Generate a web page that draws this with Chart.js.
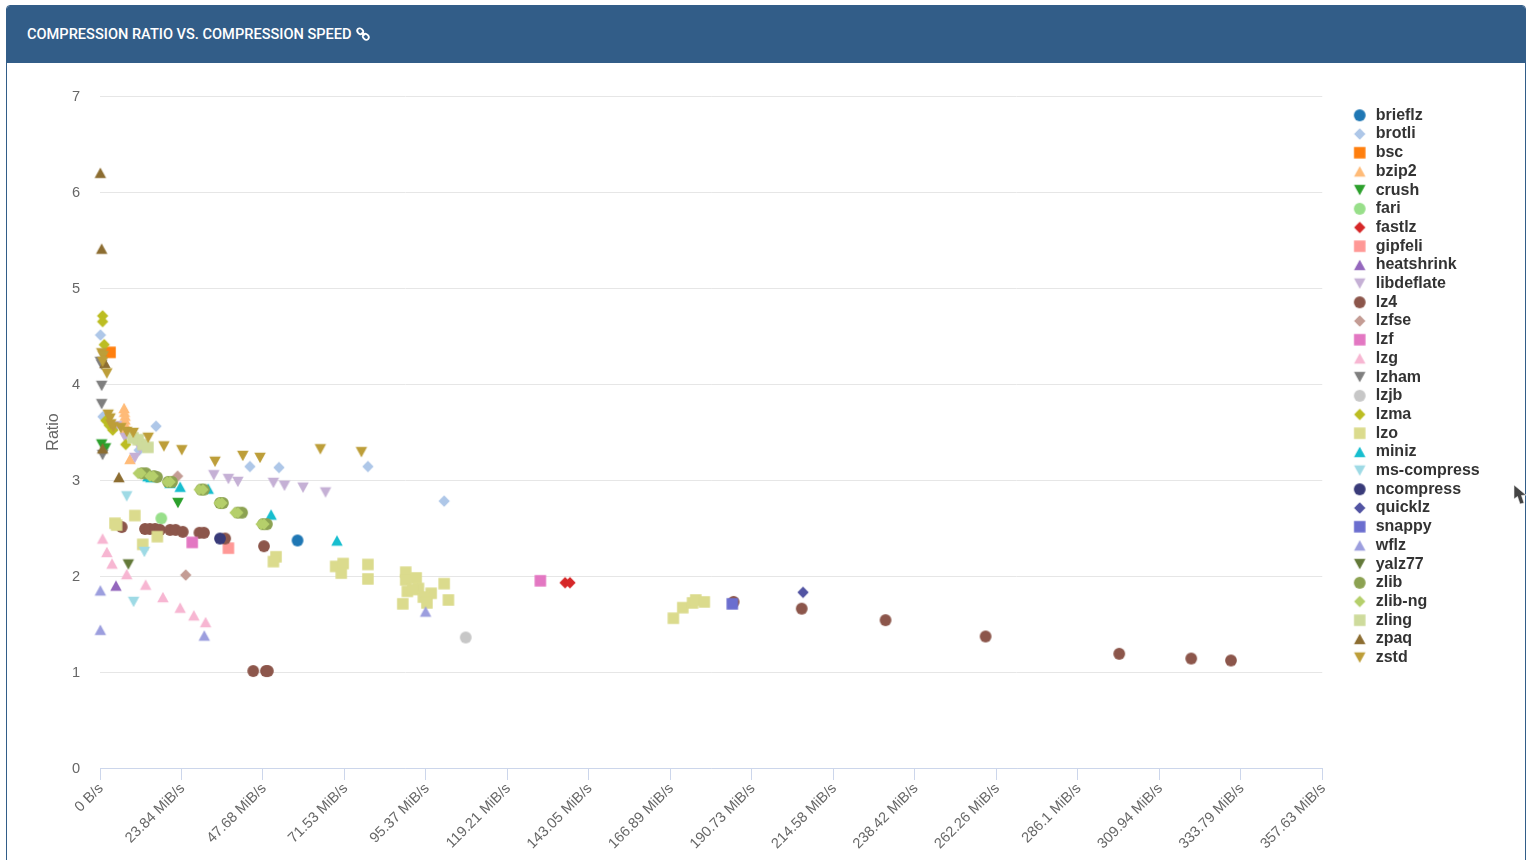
<!DOCTYPE html>
<html>
<head>
<meta charset="utf-8">
<title>Compression ratio vs. compression speed</title>
<script src="https://cdn.jsdelivr.net/npm/chart.js@4"></script>
<style>
  html, body { margin: 0; padding: 0; background: #fff; overflow: hidden; }
  #page { position: relative; width: 1529px; height: 860px; overflow: hidden; }
  #card { position: absolute; left: 6px; top: 5px; width: 1518px; height: 900px; border: 1px solid #325d88; border-radius: 4px 4px 0 0; }
  #head { position: absolute; left: 0; top: 0; right: 0; height: 57px; background: #325d88; color: #fff;
          font: 500 14.6px Roboto, sans-serif; line-height: 56px; padding-left: 20px; border-radius: 3px 3px 0 0; }
  #head svg { vertical-align: -2px; margin-left: 1px; }
  #chart { position: absolute; left: 0; top: 0; }
  #cursor { position: absolute; left: 1513px; top: 484px; }
</style>
</head>
<body>
<div id="page">
  <div id="card">
    <div id="head">COMPRESSION RATIO VS. COMPRESSION SPEED
      <svg width="14" height="14" viewBox="0 0 14 14" fill="none" stroke="#fff" stroke-width="1.8">
        <ellipse cx="4.2" cy="4.2" rx="3.2" ry="2.6" transform="rotate(45 4.2 4.2)"/>
        <ellipse cx="9.8" cy="9.8" rx="3.2" ry="2.6" transform="rotate(45 9.8 9.8)"/>
        <path d="M5.5 5.5L8.5 8.5"/>
      </svg>
    </div>
  </div>
  <canvas id="chart" width="1529" height="860"></canvas>
  <svg id="cursor" width="14" height="22" viewBox="0 0 14 22">
    <path d="M1 1L1 15L4.5 12.5L7 20L11 19L8.5 11.5L13 11Z" fill="#444" stroke="#eee" stroke-width="0.6"/>
  </svg>
</div>

<script>
// speed in MB/s, ratio
const brieflz = [[60.6, 2.37]];
const brotli = [[0.15, 4.51], [0.9, 3.66], [17.2, 3.56], [46, 3.14], [54.9, 3.13], [82.2, 3.14], [105.6, 2.78], [12, 3.31]];
const bsc = [[3.07, 4.33]];
const bzip2 = [[7.4, 3.75], [7.5, 3.71], [7.7, 3.67], [7.7, 3.63], [7.8, 3.58], [8, 3.54], [9.2, 3.22]];
const crush = [[0.5, 3.37], [1.7, 3.33], [23.9, 2.76]];
const fari = [[18.8, 2.6]];
const fastlz = [[142.7, 1.93], [144.2, 1.93]];
const gipfeli = [[39.4, 2.29]];
const heatshrink = [[4.9, 1.9]];
const libdeflate = [[5.1, 3.56], [7.7, 3.44], [12.3, 3.33], [10.7, 3.23], [34.9, 3.05], [39.4, 3.01], [42.3, 2.98], [53.2, 2.97], [56.6, 2.94], [62.3, 2.92], [69.2, 2.87]];
const lz4 = [[6.66, 2.51], [13.8, 2.49], [15.3, 2.49], [16.9, 2.49], [18.4, 2.48], [21.5, 2.48], [23.2, 2.48], [25.4, 2.46], [30.5, 2.45], [31.9, 2.45], [38.4, 2.39], [50.3, 2.31], [47, 1.01], [50.9, 1.01], [51.5, 1.01], [194.4, 1.73], [215.3, 1.66], [241, 1.54], [271.7, 1.37], [312.7, 1.19], [334.8, 1.14], [347, 1.12]];
const lzfse = [[23.8, 3.04], [26.3, 2.01]];
const lzf = [[28.3, 2.35], [135.1, 1.95]];
const lzg = [[0.8, 2.39], [2.1, 2.25], [3.7, 2.13], [8.2, 2.02], [14, 1.91], [19.3, 1.78], [24.6, 1.67], [28.8, 1.59], [32.4, 1.52]];
const lzham = [[0.5, 3.98], [0.5, 3.79], [0.1, 4.23], [0.5, 4.2], [0.8, 3.26]];
const lzjb = [[112.2, 1.36]];
const lzma = [[0.8, 4.71], [0.8, 4.65], [1.3, 4.41], [1.8, 3.62], [2.8, 3.57], [3.9, 3.52], [7.9, 3.37]];
const lzo = [[4.6, 2.55], [5.1, 2.53], [10.7, 2.63], [13.1, 2.33], [17.6, 2.41], [54, 2.2], [53.2, 2.15], [72.3, 2.1], [74.6, 2.13], [74, 2.03], [82.2, 2.12], [82.2, 1.97], [93.8, 2.04], [97, 1.98], [93.8, 1.96], [97.7, 1.87], [94.3, 1.84], [96, 1.86], [101.6, 1.82], [99.2, 1.78], [100.3, 1.72], [92.9, 1.71], [105.6, 1.92], [106.9, 1.75], [175.9, 1.56], [178.8, 1.67], [181.8, 1.72], [182.8, 1.75], [185.4, 1.73]];
const miniz = [[14.7, 3.04], [15.6, 3.03], [21.5, 2.97], [24.6, 2.93], [33.2, 2.91], [52.5, 2.64], [72.7, 2.37]];
const msCompress = [[8.2, 2.83], [13.6, 2.25], [10.3, 1.73]];
const ncompress = [[36.8, 2.39]];
const quicklz = [[215.7, 1.83]];
const snappy = [[194, 1.71]];
const wflz = [[0.1, 1.85], [0.1, 1.44], [32, 1.38], [99.9, 1.63]];
const yalz77 = [[8.7, 2.12]];
const zlib = [[12.9, 3.07], [14.1, 3.07], [16.6, 3.04], [17.5, 3.03], [20.9, 2.98], [22.1, 2.98], [31, 2.9], [31.9, 2.9], [36.8, 2.76], [37.7, 2.76], [42.3, 2.66], [43.6, 2.66], [50, 2.54], [51.2, 2.54]];
const zlibNg = [[11.7, 3.07], [12.6, 3.07], [15.3, 3.04], [16.3, 3.04], [20.6, 2.98], [21.5, 2.98], [30.4, 2.9], [31.6, 2.9], [36.5, 2.76], [37.4, 2.76], [41.4, 2.66], [42.3, 2.66], [49.4, 2.54], [50.3, 2.54]];
const zling = [[10.1, 3.44], [11.7, 3.42], [13.2, 3.37], [14.7, 3.34]];
const zpaq = [[0.1, 6.2], [0.5, 5.41], [1.5, 4.22], [0.8, 3.33], [5.8, 3.03]];
const zstd = [[0.5, 4.32], [1, 4.29], [0.8, 4.23], [2.1, 4.11], [2.5, 3.68], [3.1, 3.64], [3.3, 3.58], [4.1, 3.55], [6.4, 3.54], [8.2, 3.5], [10.2, 3.49], [14.8, 3.44], [19.6, 3.35], [25.1, 3.31], [35.3, 3.19], [43.8, 3.25], [49.1, 3.23], [67.6, 3.32], [80.2, 3.29]];

const seriesNames = ['brieflz', 'brotli', 'bsc', 'bzip2', 'crush', 'fari', 'fastlz', 'gipfeli', 'heatshrink', 'libdeflate', 'lz4', 'lzfse', 'lzf', 'lzg', 'lzham', 'lzjb', 'lzma', 'lzo', 'miniz', 'ms-compress', 'ncompress', 'quicklz', 'snappy', 'wflz', 'yalz77', 'zlib', 'zlib-ng', 'zling', 'zpaq', 'zstd'];
const seriesValues = [brieflz, brotli, bsc, bzip2, crush, fari, fastlz, gipfeli, heatshrink, libdeflate, lz4, lzfse, lzf, lzg, lzham, lzjb, lzma, lzo, miniz, msCompress, ncompress, quicklz, snappy, wflz, yalz77, zlib, zlibNg, zling, zpaq, zstd];
const xTickLabels = ['0 B/s', '23.84 MiB/s', '47.68 MiB/s', '71.53 MiB/s', '95.37 MiB/s', '119.21 MiB/s', '143.05 MiB/s', '166.89 MiB/s', '190.73 MiB/s', '214.58 MiB/s', '238.42 MiB/s', '262.26 MiB/s', '286.1 MiB/s', '309.94 MiB/s', '333.79 MiB/s', '357.63 MiB/s'];

const palette = ['#1f77b4', '#aec7e8', '#ff7f0e', '#ffbb78', '#2ca02c', '#98df8a', '#d62728', '#ff9896', '#9467bd', '#c5b0d5', '#8c564b', '#c49c94', '#e377c2', '#f7b6d2', '#7f7f7f', '#c7c7c7', '#bcbd22', '#dbdb8d', '#17becf', '#9edae5', '#393b79', '#5254a3', '#6b6ecf', '#9c9ede', '#637939', '#8ca252', '#b5cf6b', '#cedb9c', '#8c6d31', '#bd9e39'];
const shapeCycle = ['circle', 'diamond', 'square', 'triangle', 'triangle-down'];

// chart.js triangles are not centred on their box, so the markers are small canvases
function makeMarker(shape, color) {
    const c = document.createElement('canvas');
    c.width = 16;
    c.height = 16;
    const g = c.getContext('2d');
    g.fillStyle = color;
    g.beginPath();
    if (shape === 'circle') g.arc(8, 8, 5.9, 0, Math.PI * 2);
    if (shape === 'square') g.rect(2.25, 2.25, 11.5, 11.5);
    if (shape === 'diamond') { g.moveTo(8, 2.3); g.lineTo(13.7, 8); g.lineTo(8, 13.7); g.lineTo(2.3, 8); }
    if (shape === 'triangle') { g.moveTo(8, 2.7); g.lineTo(13.75, 13.3); g.lineTo(2.25, 13.3); }
    if (shape === 'triangle-down') { g.moveTo(2.25, 2.7); g.lineTo(13.75, 2.7); g.lineTo(8, 13.3); }
    g.closePath();
    g.fill();
    return c;
}

const datasets = seriesNames.map((name, i) => ({
    label: name,
    data: seriesValues[i],
    backgroundColor: palette[i],
    borderColor: palette[i],
    pointStyle: makeMarker(shapeCycle[i % 5], palette[i]),
    order: seriesNames.length - i,
    clip: false
}));

// legend sits further right than the plot edge and a bit below its top
const legendPlace = {
    id: 'legendPlace',
    afterLayout(chart) {
        chart.legend.left = 1349;
        chart.legend.right = 1529;
        chart.legend.top = 104.6;
    }
};

new Chart(document.getElementById('chart').getContext('2d'), {
    type: 'scatter',
    data: { datasets },
    plugins: [legendPlace],
    options: {
        responsive: false,
        animation: false,
        events: [],
        layout: { padding: { left: 44, top: 96, right: 66, bottom: 0 } },
        scales: {
            x: {
                type: 'linear',
                min: 0,
                max: 375,
                afterFit(s) { s.height = 92; },
                border: { color: '#ccd6eb' },
                grid: { drawOnChartArea: false, tickColor: '#ccd6eb', tickLength: 12 },
                ticks: {
                    stepSize: 25,
                    autoSkip: false,
                    minRotation: 45,
                    maxRotation: 45,
                    padding: 0,
                    labelOffset: 1,
                    color: '#666',
                    font: { family: '"Liberation Sans"', size: 14.6 },
                    callback: (v, i) => xTickLabels[i]
                }
            },
            y: {
                min: 0,
                max: 7,
                afterFit(s) { s.width = 56; },
                border: { display: false },
                grid: { color: '#e6e6e6', drawTicks: false },
                title: { display: true, text: 'Ratio', color: '#666', padding: 0, font: { family: '"Liberation Sans"', size: 16 } },
                ticks: { stepSize: 1, padding: 20, labelOffset: 0.5, color: '#666', font: { family: '"Liberation Sans"', size: 14.6 } }
            }
        },
        plugins: {
            tooltip: { enabled: false },
            legend: {
                position: 'right',
                align: 'start',
                labels: {
                    usePointStyle: true,
                    padding: 2.7,
                    color: '#333',
                    font: { family: '"Liberation Sans"', size: 16, weight: 'bold' },
                    sort: (a, b) => a.datasetIndex - b.datasetIndex
                }
            }
        }
    }
});
</script>
</body>
</html>
